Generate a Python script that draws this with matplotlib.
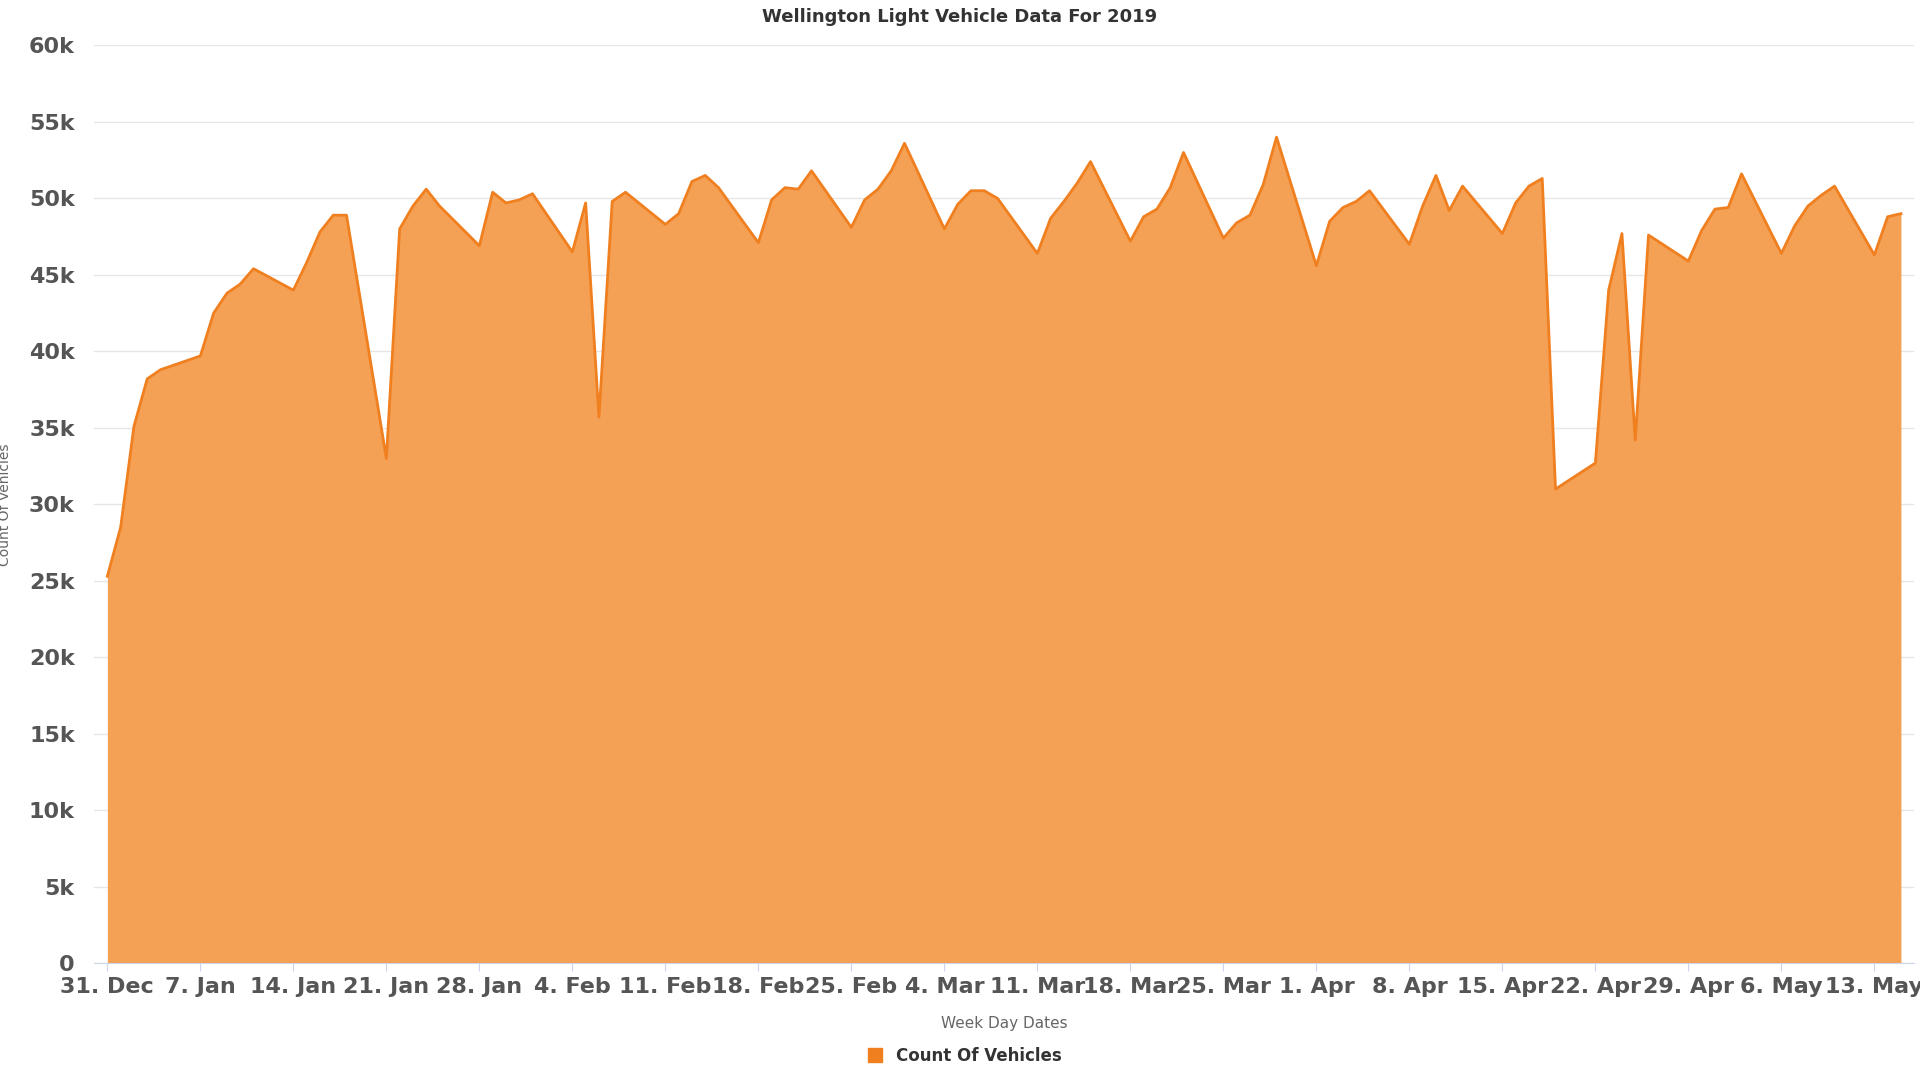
import numpy as np
import pandas as pd
import matplotlib
matplotlib.use("Agg")
import matplotlib.pyplot as plt
import matplotlib.dates as mdates
from matplotlib.ticker import FuncFormatter
from matplotlib.lines import Line2D

start = "2018-12-31"
counts = [25.3, 28.5, 35.1, 38.2, 38.8,
          39.7, 42.5, 43.8, 44.4, 45.4,
          44.0, 45.8, 47.8, 48.9, 48.9,
          33.0, 48.0, 49.5, 50.6, 49.5,
          46.9, 50.4, 49.7, 49.9, 50.3,
          46.5, 49.7, 35.7, 49.8, 50.4,
          48.3, 49.0, 51.1, 51.5, 50.7,
          47.1, 49.9, 50.7, 50.6, 51.8,
          48.1, 49.9, 50.6, 51.8, 53.6,
          48.0, 49.6, 50.5, 50.5, 50.0,
          46.4, 48.7, 49.8, 51.0, 52.4,
          47.2, 48.8, 49.3, 50.7, 53.0,
          47.4, 48.4, 48.9, 50.9, 54.0,
          45.6, 48.5, 49.4, 49.8, 50.5,
          47.0, 49.5, 51.5, 49.2, 50.8,
          47.7, 49.7, 50.8, 51.3, 31.0,
          32.7, 44.0, 47.7, 34.2, 47.6,
          45.9, 47.9, 49.3, 49.4, 51.6,
          46.4, 48.2, 49.5, 50.2, 50.8,
          46.3, 48.8, 49.0]
dates = pd.bdate_range(start, periods=len(counts))
values = np.array(counts) * 1000
tick_dates = pd.date_range("2018-12-31", "2019-05-13", freq="7D")

fig = plt.figure(figsize=(19.2, 10.8), dpi=100)
ax = fig.add_axes([0.049, 0.108, 0.948, 0.85])
ax.fill_between(dates, values, color="#F4A155", lw=0, zorder=2)
ax.plot(dates, values, color="#F07F1F", lw=2, zorder=3)
ax.set_ylim(0, 60000)
ax.set_xlim(pd.Timestamp("2018-12-30"), pd.Timestamp("2019-05-16"))
ax.set_yticks(np.arange(0, 60001, 5000))
ax.yaxis.set_major_formatter(FuncFormatter(lambda v, p: "0" if v == 0 else f"{int(v/1000)}k"))
ax.set_xticks(tick_dates)
ax.set_xticklabels([f"{d.day}. {d.strftime('%b')}" for d in tick_dates])
ax.grid(axis="y", color="#e6e6e6", lw=1, zorder=0)
for s in ["top", "right", "left"]:
    ax.spines[s].set_visible(False)
ax.spines["bottom"].set_color("#ccd6eb")
ax.tick_params(axis="y", length=0, labelsize=16, labelcolor="#555555", pad=14)
ax.tick_params(axis="x", length=6, color="#ccd6eb", labelsize=16, labelcolor="#555555")
for t in ax.get_yticklabels() + ax.get_xticklabels():
    t.set_fontweight("bold")
ax.set_xlabel("Week Day Dates", fontsize=11, color="#666666", labelpad=14)
ax.set_ylabel("Count Of Vehicles", fontsize=10, color="#666666", labelpad=12)
fig.suptitle("Wellington Light Vehicle Data For 2019", y=0.993, fontsize=13, fontweight="bold", color="#333333")
h = Line2D([], [], marker="s", color="#F07F1F", ls="none", markersize=10)
fig.legend([h], ["Count Of Vehicles"], loc="lower center", bbox_to_anchor=(0.5, 0.0), frameon=False,
           prop={"size": 12, "weight": "bold"}, labelcolor="#333333", handletextpad=0.3)
fig.savefig("out.png", dpi=100, facecolor="white")
